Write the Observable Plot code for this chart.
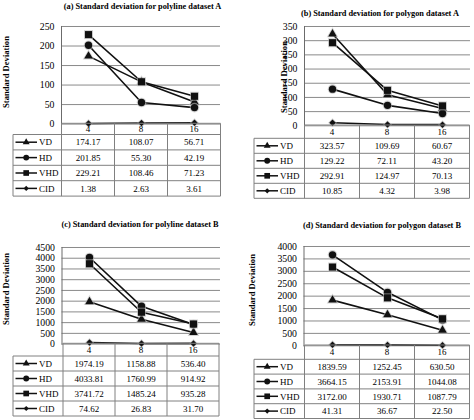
<!DOCTYPE html>
<html>
<head>
<meta charset="utf-8">
<script src="https://cdn.jsdelivr.net/npm/d3@7"></script>
<script src="https://cdn.jsdelivr.net/npm/@observablehq/plot@0.6"></script>
<style>
  body { margin: 0; background: #fff; }
  #chart { position: relative; width: 474px; height: 420px; overflow: hidden; background: #fff; }
  #chart svg { position: absolute; }
</style>
</head>
<body>
<div id="chart"></div>
<script>
// Sampling intervals (table columns) and the four methods (table rows)
const intervals = ["4", "8", "16"];
const methods = ["VD", "HD", "VHD", "CID"];

// Standard deviation, one row per method, one column per interval
const polylineA = [
  [174.17, 108.07, 56.71],
  [201.85, 55.30, 42.19],
  [229.21, 108.46, 71.23],
  [1.38, 2.63, 3.61]
];
const polygonA = [
  [323.57, 109.69, 60.67],
  [129.22, 72.11, 43.20],
  [292.91, 124.97, 70.13],
  [10.85, 4.32, 3.98]
];
const polylineB = [
  [1974.19, 1158.88, 536.40],
  [4033.81, 1760.99, 914.92],
  [3741.72, 1485.24, 935.28],
  [74.62, 26.83, 31.70]
];
const polygonB = [
  [1839.59, 1252.45, 630.50],
  [3664.15, 2153.91, 1044.08],
  [3172.00, 1930.71, 1087.79],
  [41.31, 36.67, 22.50]
];

// Y axis tick values for each panel
const ticksPolylineA = [0, 50, 100, 150, 200, 250];
const ticksPolygonA = [0, 50, 100, 150, 200, 250, 300, 350];
const ticksPolylineB = [0, 500, 1000, 1500, 2000, 2500, 3000, 3500, 4000, 4500];
const ticksPolygonB = [0, 500, 1000, 1500, 2000, 2500, 3000, 3500, 4000];

const titles = [
  "(a) Standard deviation for polyline dataset A",
  "(b) Standard deviation for polygon dataset A",
  "(c) Standard deviation for polyline dataset B",
  "(d) Standard deviation for polygon dataset B"
];
const yLabel = "Standard Deviation";

// Marker shape per method
const markerStyle = {
  VD: {symbol: "triangle", r: 3.2},
  HD: {symbol: "circle", r: 3.7},
  VHD: {symbol: "square", r: 4.0},
  CID: {symbol: "diamond2", r: 2.9}
};
const d3Symbols = {triangle: d3.symbolTriangle, circle: d3.symbolCircle, square: d3.symbolSquare, diamond2: d3.symbolDiamond2};

const FONT = "'Liberation Serif', 'Times New Roman', serif";

// Panel placement on the page
const panels = [
  {values: polylineA, ticks: ticksPolylineA, title: titles[0], titleX: 142.5, titleY: 8.5,
   left: 0, plotLeft: 61, plotRight: 220, yTop: 25.7, y0: 123.3, headerBottom: 134.5, rowH: 15.4,
   tableLeft: 13, ylabX: 6, ylabY: 72},
  {values: polygonA, ticks: ticksPolygonA, title: titles[1], titleX: 380, titleY: 15.5,
   left: 237, plotLeft: 304, plotRight: 470, yTop: 25.7, y0: 125, headerBottom: 138.3, rowH: 15,
   tableLeft: 254, ylabX: 284, ylabY: 77},
  {values: polylineB, ticks: ticksPolylineB, title: titles[2], titleX: 140, titleY: 227,
   left: 0, plotLeft: 61.5, plotRight: 220, yTop: 246.7, y0: 343.3, headerBottom: 356, rowH: 15,
   tableLeft: 13, ylabX: 6, ylabY: 289},
  {values: polygonB, ticks: ticksPolygonB, title: titles[3], titleX: 382, titleY: 227.5,
   left: 237, plotLeft: 303.5, plotRight: 470, yTop: 245.7, y0: 345, headerBottom: 359.3, rowH: 14.8,
   tableLeft: 254, ylabX: 252, ylabY: 290}
];

const container = document.getElementById("chart");
const overlay = d3.create("svg")
  .attr("width", 474).attr("height", 420)
  .style("left", "0px").style("top", "0px")
  .style("font-family", FONT);

const gridColor = "#8a8a8a";
const tableColor = "#808080";

panels.forEach(cfg => {
  const rows = [];
  cfg.values.forEach((vals, i) => vals.forEach((v, j) =>
    rows.push({method: methods[i], interval: intervals[j], value: v})));

  const mt = 6, mb = 1, mr = 3;
  const plotH = cfg.y0 - cfg.yTop;
  const ml = cfg.plotLeft - cfg.left;
  const width = cfg.plotRight - cfg.left + mr;
  const height = mt + plotH + mb;

  const marks = [
    Plot.gridY({ticks: cfg.ticks, stroke: gridColor, strokeOpacity: 1, strokeWidth: 1}),
    Plot.frame({anchor: "left", stroke: "#6a6a6a"}),
    Plot.axisY({ticks: cfg.ticks, tickSize: 0, tickPadding: 7, label: null, fontSize: 9.8,
                tickFormat: d => String(d)}),
    Plot.line(rows, {x: "interval", y: "value", z: "method", stroke: "#111", strokeWidth: 1.6})
  ];
  methods.forEach(m => {
    const s = markerStyle[m];
    const data = rows.filter(d => d.method === m);
    marks.push(Plot.dot(data, {x: "interval", y: "value", symbol: s.symbol, r: s.r + 1.1, fill: "#b8b8b8", fillOpacity: 0.6}));
    marks.push(Plot.dot(data, {x: "interval", y: "value", symbol: s.symbol, r: s.r, fill: "#111"}));
  });

  const chart = Plot.plot({
    width, height,
    marginLeft: ml, marginRight: mr, marginTop: mt, marginBottom: mb,
    x: {type: "point", domain: intervals, padding: 0.5, axis: null},
    y: {domain: [0, d3.max(cfg.ticks)]},
    style: {fontFamily: FONT, fontSize: "9.8px", color: "#000", background: "transparent", overflow: "visible"},
    marks
  });
  const svgTop = cfg.yTop - mt;
  chart.style.left = cfg.left + "px";
  chart.style.top = svgTop + "px";
  container.appendChild(chart);

  // Column edges of the data table follow the x scale
  const xs = chart.scale("x");
  const centers = intervals.map(k => cfg.left + xs.apply(k));
  const step = centers[1] - centers[0];
  const edges = [centers[0] - step / 2, ...centers.map(c => c + step / 2)];

  const g = overlay.append("g");

  // Title and y axis label
  g.append("text").attr("x", cfg.titleX).attr("y", cfg.titleY)
    .attr("text-anchor", "middle").attr("font-weight", "bold").attr("font-size", 8.3)
    .text(cfg.title);
  g.append("text")
    .attr("transform", `translate(${cfg.ylabX},${cfg.ylabY}) rotate(-90)`)
    .attr("text-anchor", "middle").attr("dy", "0.35em")
    .attr("font-weight", "bold").attr("font-size", 8.6)
    .text(yLabel);

  const bottom = cfg.headerBottom + methods.length * cfg.rowH;
  const lines = g.append("g").attr("stroke", tableColor).attr("stroke-width", 1).attr("fill", "none");
  // horizontal rules
  lines.append("line").attr("x1", edges[0]).attr("x2", edges[3]).attr("y1", cfg.y0).attr("y2", cfg.y0);
  for (let i = 0; i <= methods.length; i++) {
    const y = cfg.headerBottom + i * cfg.rowH;
    lines.append("line").attr("x1", cfg.tableLeft).attr("x2", edges[3]).attr("y1", y).attr("y2", y);
  }
  // vertical rules
  lines.append("line").attr("x1", cfg.tableLeft).attr("x2", cfg.tableLeft).attr("y1", cfg.headerBottom).attr("y2", bottom);
  edges.forEach(x => lines.append("line").attr("x1", x).attr("x2", x).attr("y1", cfg.y0).attr("y2", bottom));

  // header: interval labels
  intervals.forEach((k, j) => {
    g.append("text").attr("x", centers[j]).attr("y", (cfg.y0 + cfg.headerBottom) / 2 + 3.2)
      .attr("text-anchor", "middle").attr("font-size", 9).text(k);
  });

  // rows: legend key, method name, values
  methods.forEach((m, i) => {
    const cy = cfg.headerBottom + (i + 0.5) * cfg.rowH;
    const s = markerStyle[m];
    const kr = s.r * 0.8;
    g.append("line").attr("x1", cfg.tableLeft + 2.5).attr("x2", cfg.tableLeft + 24)
      .attr("y1", cy).attr("y2", cy).attr("stroke", "#111").attr("stroke-width", 1.5);
    g.append("path")
      .attr("d", d3.symbol(d3Symbols[s.symbol], Math.PI * kr * kr)())
      .attr("transform", `translate(${cfg.tableLeft + 13.2},${cy})`)
      .attr("fill", "#111");
    g.append("text").attr("x", cfg.tableLeft + 26).attr("y", cy + 3.2)
      .attr("font-size", 9).text(m);
    cfg.values[i].forEach((v, j) => {
      g.append("text").attr("x", centers[j]).attr("y", cy + 3.2)
        .attr("text-anchor", "middle").attr("font-size", 9).text(v.toFixed(2));
    });
  });
});

container.appendChild(overlay.node());
</script>
</body>
</html>
